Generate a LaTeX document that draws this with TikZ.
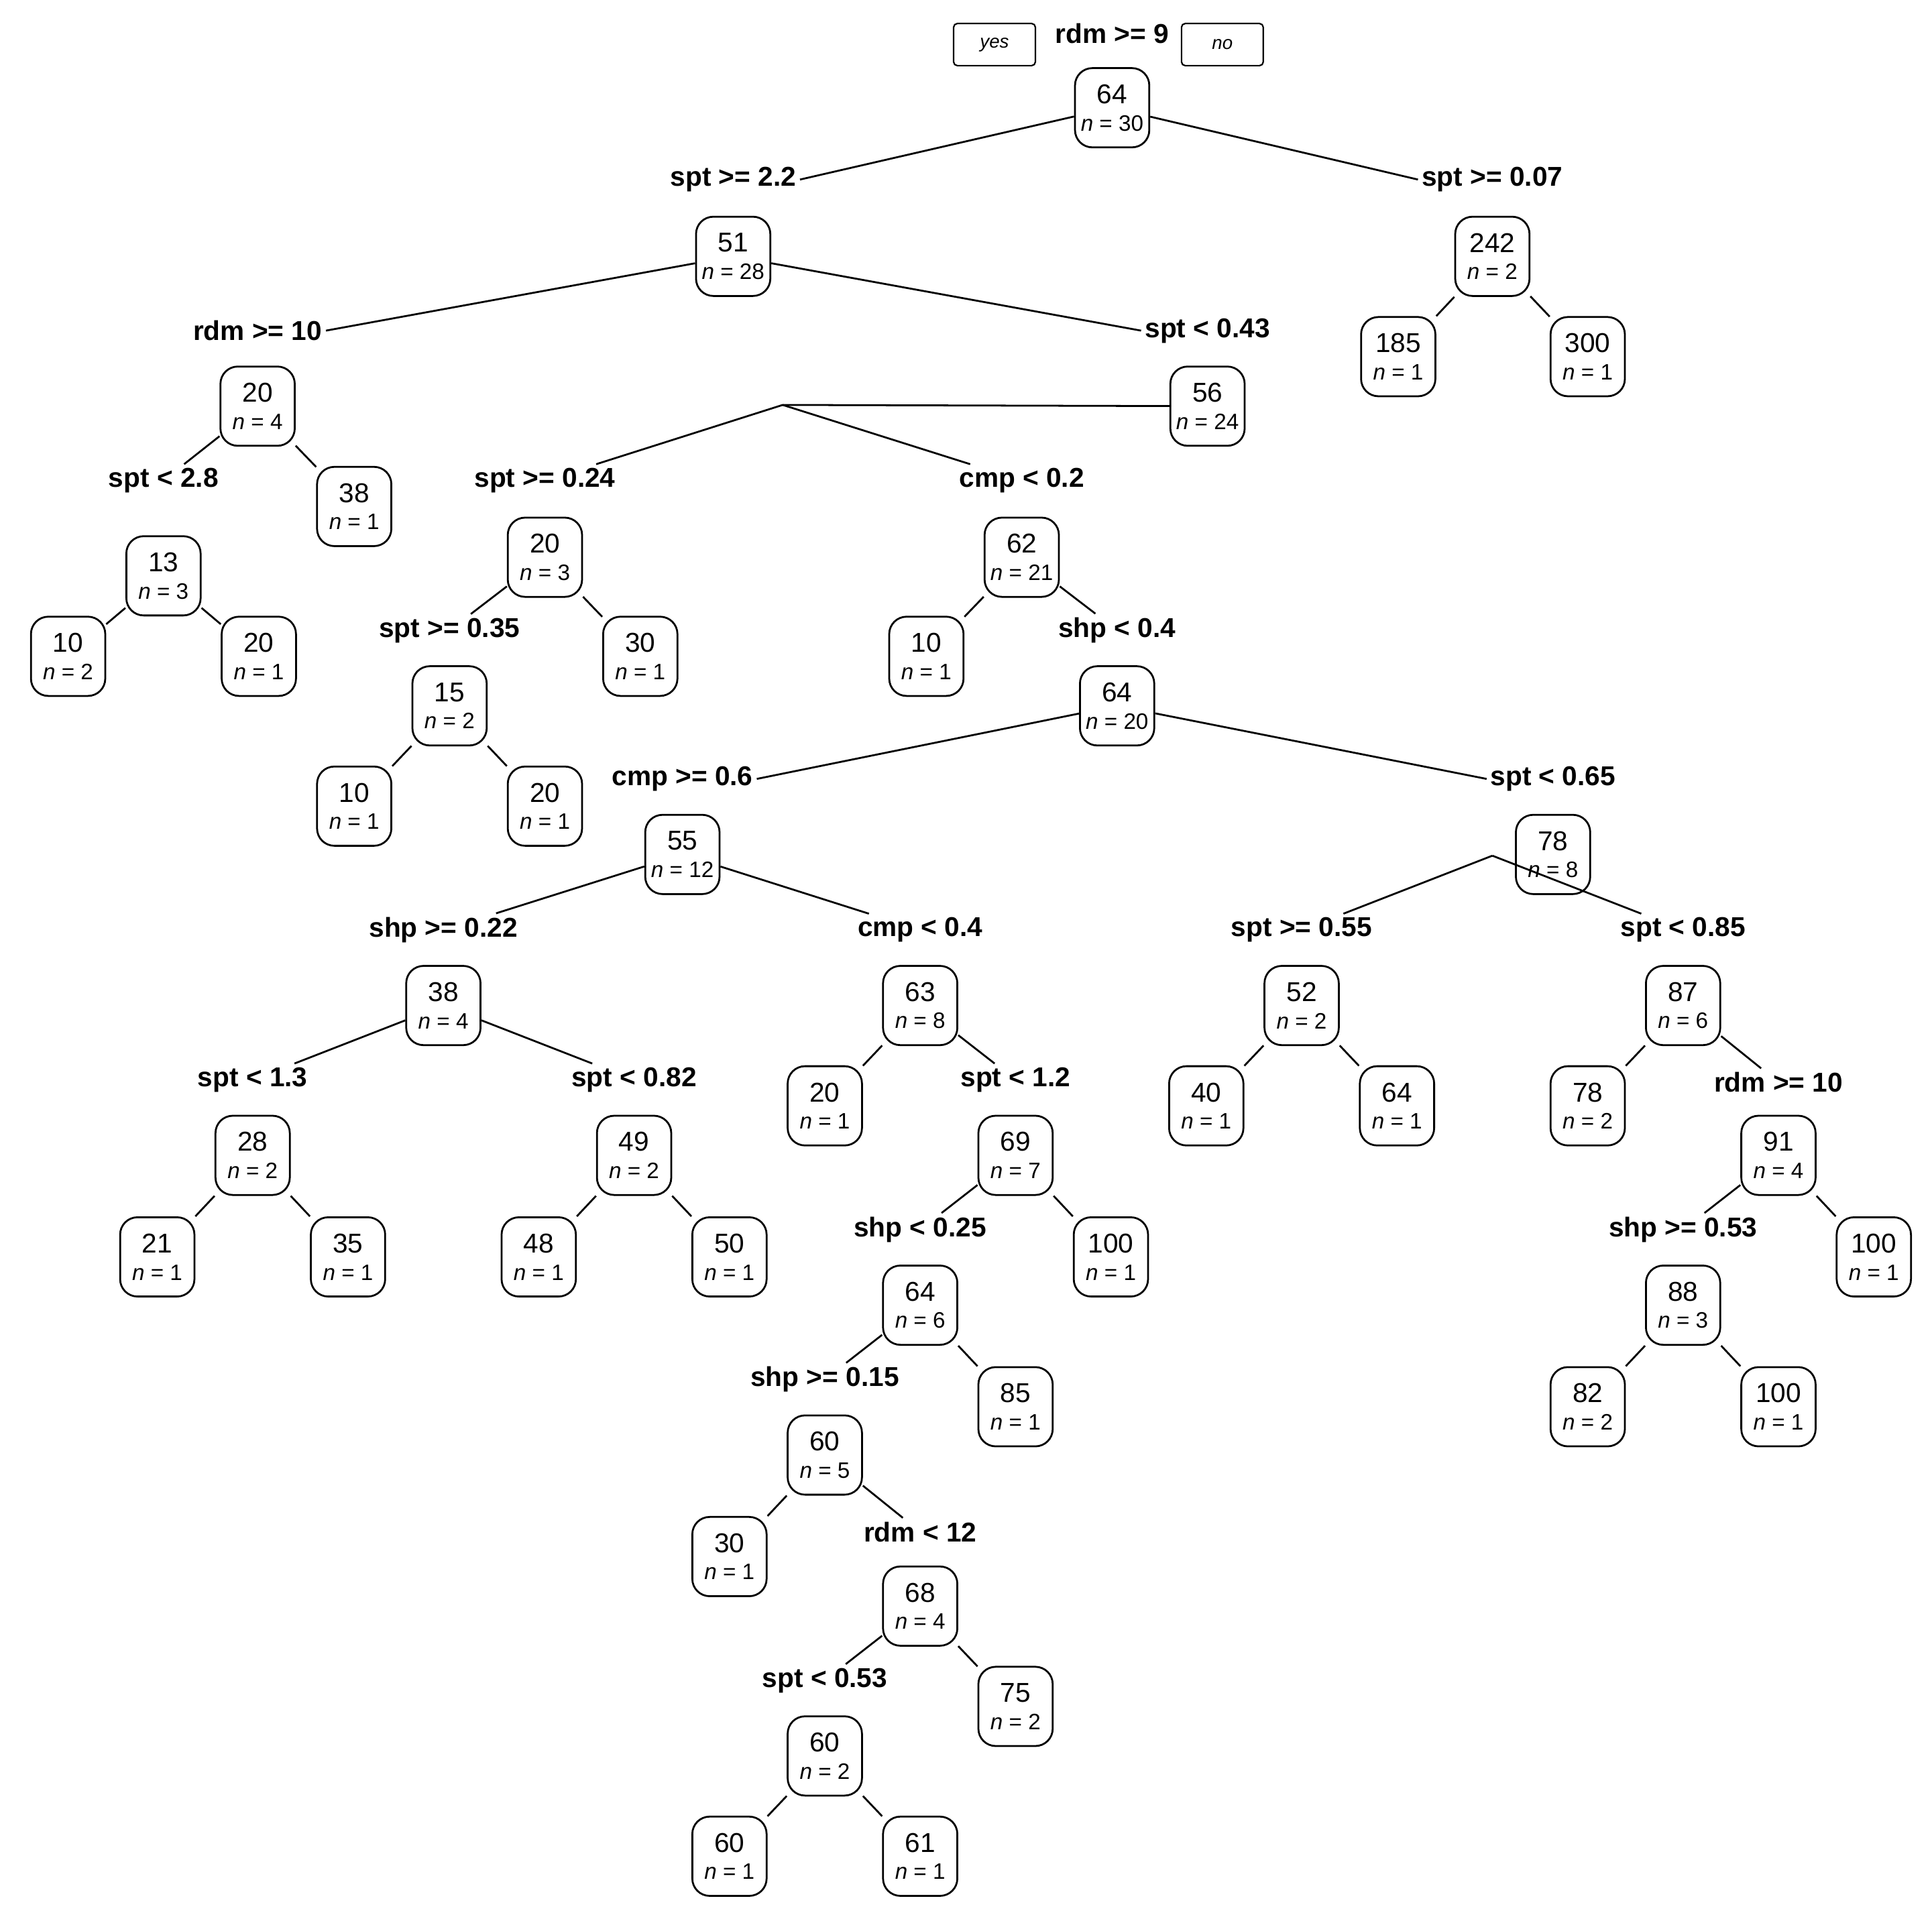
\documentclass[tikz,border=0pt]{standalone}
\usepackage{fontspec}
\setmainfont{Liberation Sans}
\begin{document}
\begin{tikzpicture}[x=1pt,y=-1pt,
  tn/.style={draw,line width=1.5pt,rounded corners=14pt,minimum width=60pt,minimum height=64pt,inner sep=4pt,align=center,font=\fontsize{22}{24}\selectfont},
  lab/.style={font=\fontsize{22}{24}\selectfont\bfseries,inner sep=3pt},
  yn/.style={draw,line width=1.2pt,rounded corners=3pt,minimum width=66pt,minimum height=34pt,font=\fontsize{15}{17}\selectfont\itshape},
  ed/.style={line width=1.5pt}]
\newcommand{\tv}[2]{#1\\[-2pt]{\fontsize{18}{20}\selectfont\textit{n} = #2}}
\useasboundingbox (0,0) rectangle (1560,1548);
% root
\node[lab] (l0) at (898,27) {rdm >= 9};
\node[yn] (yes) at (803,36) {yes};
\node[yn] (no) at (987,36) {no};
\node[tn] (r) at (898,87) {\tv{64}{30}};
% level 1
\node[lab] (la) at (592,145) {spt >= 2.2};
\node[tn] (a) at (592,207) {\tv{51}{28}};
\node[lab] (lb) at (1205,145) {spt >= 0.07};
\node[tn] (b) at (1205,207) {\tv{242}{2}};
\node[tn] (b1) at (1129,288) {\tv{185}{1}};
\node[tn] (b2) at (1282,288) {\tv{300}{1}};
% 51 children
\node[lab] (lc) at (208,267) {rdm >= 10};
\node[tn] (c) at (208,328) {\tv{20}{4}};
\node[lab] (ld) at (975,267) {spt < 0.43};
\node[tn] (d) at (975,328) {\tv{56}{24}};
\node[lab] (le) at (132,388) {spt < 2.8};
\node[tn] (e) at (132,465) {\tv{13}{3}};
\node[tn] (c2) at (286,409) {\tv{38}{1}};
\node[tn] (e1) at (55,530) {\tv{10}{2}};
\node[tn] (e2) at (209,530) {\tv{20}{1}};
% 56 children
\coordinate (j) at (632,327);
\node[lab] (lf) at (440,388) {spt >= 0.24};
\node[tn] (f) at (440,450) {\tv{20}{3}};
\node[lab] (lg) at (363,509) {spt >= 0.35};
\node[tn] (g) at (363,570) {\tv{15}{2}};
\node[tn] (f2) at (517,530) {\tv{30}{1}};
\node[tn] (g1) at (286,651) {\tv{10}{1}};
\node[tn] (g2) at (440,651) {\tv{20}{1}};
\node[lab] (lh) at (825,388) {cmp < 0.2};
\node[tn] (h) at (825,450) {\tv{62}{21}};
\node[tn] (h1) at (748,530) {\tv{10}{1}};
\node[lab] (li) at (902,509) {shp < 0.4};
\node[tn] (i) at (902,570) {\tv{64}{20}};
% 64 n=20 children
\node[lab] (lk) at (551,629) {cmp >= 0.6};
\node[tn] (k) at (551,690) {\tv{55}{12}};
\node[lab] (lm) at (1254,629) {spt < 0.65};
\node[tn] (m) at (1254,690) {\tv{78}{8}};
\node[lab] (ln) at (358,751) {shp >= 0.22};
\node[tn] (n) at (358,812) {\tv{38}{4}};
\node[lab] (lo) at (743,751) {cmp < 0.4};
\node[tn] (o) at (743,812) {\tv{63}{8}};
\node[lab] (lp) at (204,872) {spt < 1.3};
\node[tn] (p) at (204,933) {\tv{28}{2}};
\node[lab] (lq) at (512,872) {spt < 0.82};
\node[tn] (q) at (512,933) {\tv{49}{2}};
\node[tn] (p1) at (127,1015) {\tv{21}{1}};
\node[tn] (p2) at (281,1015) {\tv{35}{1}};
\node[tn] (q1) at (435,1015) {\tv{48}{1}};
\node[tn] (q2) at (589,1015) {\tv{50}{1}};
\node[tn] (o1) at (666,893) {\tv{20}{1}};
\node[lab] (ls) at (820,872) {spt < 1.2};
\node[tn] (s) at (820,933) {\tv{69}{7}};
\node[lab] (lt) at (743,993) {shp < 0.25};
\node[tn] (t) at (743,1054) {\tv{64}{6}};
\node[tn] (s2) at (897,1015) {\tv{100}{1}};
\node[lab] (lu) at (666,1114) {shp >= 0.15};
\node[tn] (u) at (666,1175) {\tv{60}{5}};
\node[tn] (t2) at (820,1136) {\tv{85}{1}};
\node[tn] (u1) at (589,1257) {\tv{30}{1}};
\node[lab] (lv) at (743,1237) {rdm < 12};
\node[tn] (v) at (743,1297) {\tv{68}{4}};
\node[lab] (lw) at (666,1357) {spt < 0.53};
\node[tn] (w) at (666,1418) {\tv{60}{2}};
\node[tn] (v2) at (820,1378) {\tv{75}{2}};
\node[tn] (w1) at (589,1499) {\tv{60}{1}};
\node[tn] (w2) at (743,1499) {\tv{61}{1}};
% 78 n=8 children
\coordinate (j2) at (1205,691);
\node[lab] (lx) at (1051,751) {spt >= 0.55};
\node[tn] (x) at (1051,812) {\tv{52}{2}};
\node[tn] (x1) at (974,893) {\tv{40}{1}};
\node[tn] (x2) at (1128,893) {\tv{64}{1}};
\node[lab] (ly) at (1359,751) {spt < 0.85};
\node[tn] (y) at (1359,812) {\tv{87}{6}};
\node[tn] (y1) at (1282,893) {\tv{78}{2}};
\node[lab] (lz) at (1436,874) {rdm >= 10};
\node[tn] (z) at (1436,933) {\tv{91}{4}};
\node[lab] (laa) at (1359,993) {shp >= 0.53};
\node[tn] (aa) at (1359,1054) {\tv{88}{3}};
\node[tn] (z2) at (1513,1015) {\tv{100}{1}};
\node[tn] (aa1) at (1282,1136) {\tv{82}{2}};
\node[tn] (aa2) at (1436,1136) {\tv{100}{1}};
% edges
\draw[ed] (r) -- (la.east); \draw[ed] (r) -- (lb.west);
\draw[ed] (b) -- (b1); \draw[ed] (b) -- (b2);
\draw[ed] (a) -- (lc.east); \draw[ed] (a) -- (ld.west);
\draw[ed] (c) -- (le); \draw[ed] (c) -- (c2);
\draw[ed] (e) -- (e1); \draw[ed] (e) -- (e2);
\draw[ed] (d) -- (j) -- (lf); \draw[ed] (j) -- (lh);
\draw[ed] (f) -- (lg); \draw[ed] (f) -- (f2);
\draw[ed] (g) -- (g1); \draw[ed] (g) -- (g2);
\draw[ed] (h) -- (h1); \draw[ed] (h) -- (li);
\draw[ed] (i) -- (lk.east); \draw[ed] (i) -- (lm.west);
\draw[ed] (k) -- (ln); \draw[ed] (k) -- (lo);
\draw[ed] (n) -- (lp); \draw[ed] (n) -- (lq);
\draw[ed] (p) -- (p1); \draw[ed] (p) -- (p2);
\draw[ed] (q) -- (q1); \draw[ed] (q) -- (q2);
\draw[ed] (o) -- (o1); \draw[ed] (o) -- (ls);
\draw[ed] (s) -- (lt); \draw[ed] (s) -- (s2);
\draw[ed] (t) -- (lu); \draw[ed] (t) -- (t2);
\draw[ed] (u) -- (u1); \draw[ed] (u) -- (lv);
\draw[ed] (v) -- (lw); \draw[ed] (v) -- (v2);
\draw[ed] (w) -- (w1); \draw[ed] (w) -- (w2);
\draw[ed] (j2) -- (lx); \draw[ed] (j2) -- (ly);
\draw[ed] (x) -- (x1); \draw[ed] (x) -- (x2);
\draw[ed] (y) -- (y1); \draw[ed] (y) -- (lz);
\draw[ed] (z) -- (laa); \draw[ed] (z) -- (z2);
\draw[ed] (aa) -- (aa1); \draw[ed] (aa) -- (aa2);
\end{tikzpicture}
\end{document}
